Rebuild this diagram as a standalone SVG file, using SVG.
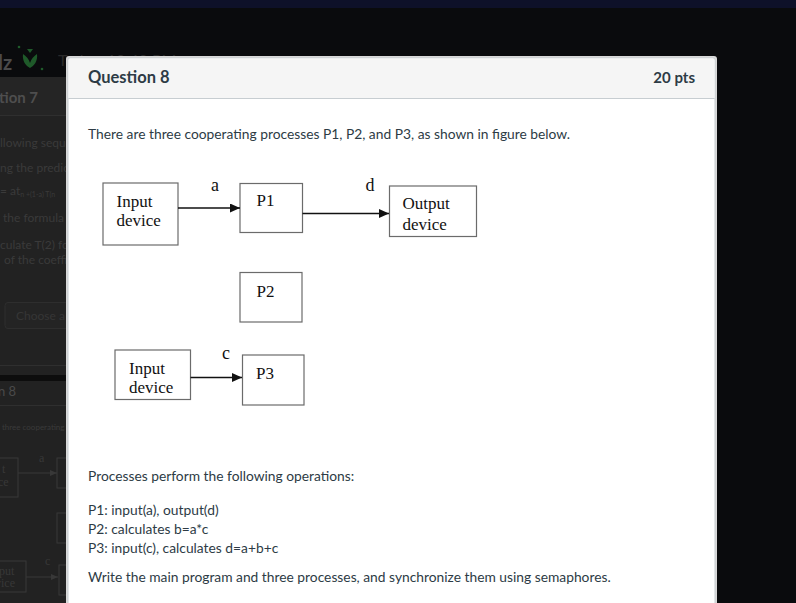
<svg xmlns="http://www.w3.org/2000/svg" width="796" height="603" viewBox="0 0 796 603">
  <style>
    .bgtxt { font-family: "Lato", "Liberation Sans", sans-serif; font-size: 12px; fill: #3a3a3a; }
    .body { font-family: "Lato", "Liberation Sans", sans-serif; font-size: 13.8px; fill: #2d3b45; }
    .hdr { font-family: "Lato", "Liberation Sans", sans-serif; font-weight: bold; fill: #2d3b45; }
    .box { fill: #ffffff; stroke: #6b6b6b; stroke-width: 1.2; }
    .lbl { font-family: "Liberation Serif", "Times New Roman", serif; font-size: 17px; fill: #111111; }
    .conn { stroke: #111111; stroke-width: 1.4; fill: none; }
    .mbox { fill: none; stroke: #383838; stroke-width: 1; }
    .mlbl { font-family: "Liberation Serif", serif; font-size: 12px; fill: #383838; }
    .mconn { stroke: #383838; stroke-width: 1; fill: none; }
  </style>
  <defs>
    <marker id="arrow" markerUnits="userSpaceOnUse" markerWidth="11" markerHeight="10" refX="10" refY="4.5" orient="auto">
      <path d="M0,0 L10,4.5 L0,9 Z" fill="#111111"/>
    </marker>
    <marker id="marrow" markerUnits="userSpaceOnUse" markerWidth="8" markerHeight="8" refX="7" refY="3" orient="auto">
      <path d="M0,0 L7,3 L0,6 Z" fill="#383838"/>
    </marker>
  </defs>

  <!-- page background -->
  <rect x="0" y="0" width="796" height="603" fill="#0a0b0d"/>
  <rect x="0" y="0" width="796" height="8" fill="#0e1129"/>

  <!-- faded background page (left) -->
  <g id="background-page">
    <text x="-2" y="70" font-family="Lato, 'Liberation Sans', sans-serif" font-weight="bold" font-size="20" fill="#4a4a4a">lz</text>
    <path d="M23,54 C22,61 26,66 30,68 C34,66 38,61 37,54 C34,56 31,59 30,63 C29,59 26,56 23,54 Z" fill="#1f5a2a"/>
    <path d="M27,49 L30,53 L33,49 Z" fill="#1f5a2a"/>
    <circle cx="19" cy="47" r="1.3" fill="#1f5a2a"/>
    <circle cx="42" cy="69" r="1.3" fill="#1f5a2a"/>
    <text x="58" y="66" font-family="Lato, 'Liberation Sans', sans-serif" font-size="16" fill="#2a2a2a">Today, 10:48 PM</text>
    <rect x="0" y="77" width="70" height="526" fill="#222222"/>
    <rect x="0" y="77" width="70" height="38" fill="#252525"/>
    <line x1="0" y1="115.5" x2="70" y2="115.5" stroke="#2f2f2f"/>
    <text x="-1" y="103" font-family="Lato, 'Liberation Sans', sans-serif" font-weight="bold" font-size="15" fill="#4e4e4e">tion 7</text>
    <text x="0" y="147" class="bgtxt">llowing seque</text>
    <text x="0" y="172" class="bgtxt">ng the predict</text>
    <text x="0" y="195" class="bgtxt">= at<tspan style="font-size:7px" dy="2">n +(1-a) T(n</tspan></text>
    <text x="3" y="222" class="bgtxt">the formula f</text>
    <text x="0" y="249" class="bgtxt">culate T(2) fo</text>
    <text x="4" y="264" class="bgtxt">of the coeffic</text>
    <rect x="5" y="302.5" width="70" height="26" rx="3" fill="#242424" stroke="#2e2e2e"/>
    <text x="16" y="320" class="bgtxt" style="fill:#363636">Choose a</text>
    <line x1="0" y1="365.5" x2="70" y2="365.5" stroke="#2f2f2f"/>
    <rect x="0" y="375" width="70" height="6" fill="#0d0d0d"/>
    <text x="-2" y="396" class="bgtxt" style="font-size:13px;fill:#4a4a4a">n 8</text>
    <line x1="0" y1="405.5" x2="70" y2="405.5" stroke="#2f2f2f"/>
    <text x="2" y="430" class="bgtxt" style="font-size:8px">three cooperating</text>
    <rect x="-20" y="458" width="38" height="39" class="mbox"/>
    <text x="2" y="473" class="mlbl">t</text>
    <text x="-2" y="486" class="mlbl">ce</text>
    <text x="39" y="462" class="mlbl">a</text>
    <line x1="18" y1="473" x2="57" y2="473" class="mconn" marker-end="url(#marrow)"/>
    <rect x="57" y="458" width="20" height="30" class="mbox"/>
    <rect x="57" y="513" width="20" height="30" class="mbox"/>
    <rect x="-12" y="561" width="38" height="31" class="mbox"/>
    <text x="-1" y="575" class="mlbl">put</text>
    <text x="-5" y="587" class="mlbl">vice</text>
    <text x="45" y="565" class="mlbl">c</text>
    <line x1="26" y1="577" x2="58" y2="577" class="mconn" marker-end="url(#marrow)"/>
    <rect x="59" y="565" width="20" height="30" class="mbox"/>
  </g>

  <!-- modal -->
  <g id="modal">
    <rect x="66" y="56" width="651" height="560" rx="3" fill="#d9d9d9"/>
    <rect x="68" y="58" width="647" height="560" rx="2" fill="#ffffff" stroke="#c7cdd1" stroke-width="1"/>
    <path d="M68.5,98 L68.5,60 Q68.5,58.5 70,58.5 L713,58.5 Q714.5,58.5 714.5,60 L714.5,98 Z" fill="#f5f5f5"/>
    <line x1="68.5" y1="98.5" x2="714.5" y2="98.5" stroke="#c7cdd1"/>
    <text x="88" y="83" class="hdr" font-size="16.5">Question 8</text>
    <text x="695" y="83" class="hdr" font-size="15" text-anchor="end">20 pts</text>
    <text x="88" y="139" class="body">There are three cooperating processes P1, P2, and P3, as shown in figure below.</text>
    <text x="88" y="481" class="body">Processes perform the following operations:</text>
    <text x="88" y="515" class="body">P1: input(a), output(d)</text>
    <text x="88" y="534" class="body">P2: calculates b=a*c</text>
    <text x="88" y="553" class="body">P3: input(c), calculates d=a+b+c</text>
    <text x="88" y="582" class="body">Write the main program and three processes, and synchronize them using semaphores.</text>
  </g>

  <!-- diagram nodes -->
  <g id="input-device-1">
    <rect x="103" y="183" width="75" height="62" class="box"/>
    <text x="116.5" y="207" class="lbl">Input</text>
    <text x="116.5" y="226" class="lbl">device</text>
  </g>
  <g id="p1">
    <rect x="240" y="183.5" width="62.5" height="49" class="box"/>
    <text x="256.5" y="206" class="lbl">P1</text>
  </g>
  <g id="output-device">
    <rect x="389.5" y="186" width="87" height="50.5" class="box"/>
    <text x="402.5" y="209" class="lbl">Output</text>
    <text x="402.5" y="230" class="lbl">device</text>
  </g>
  <g id="p2">
    <rect x="240" y="272.5" width="62" height="49.5" class="box"/>
    <text x="256.5" y="297" class="lbl">P2</text>
  </g>
  <g id="input-device-2">
    <rect x="115" y="350" width="75.5" height="49.5" class="box"/>
    <text x="129" y="374" class="lbl">Input</text>
    <text x="129" y="393" class="lbl">device</text>
  </g>
  <g id="p3">
    <rect x="242.5" y="355" width="61.5" height="50" class="box"/>
    <text x="256" y="378.5" class="lbl">P3</text>
  </g>

  <!-- connectors -->
  <g id="connectors">
    <line x1="178" y1="208" x2="240" y2="208" class="conn" marker-end="url(#arrow)"/>
    <text x="215" y="191" class="lbl" style="font-size:18px" text-anchor="middle">a</text>
    <line x1="302.5" y1="213.5" x2="389" y2="213.5" class="conn" marker-end="url(#arrow)"/>
    <text x="370" y="191" class="lbl" style="font-size:18px" text-anchor="middle">d</text>
    <line x1="190.5" y1="377.5" x2="242" y2="377.5" class="conn" marker-end="url(#arrow)"/>
    <text x="226" y="358.5" class="lbl" style="font-size:18px" text-anchor="middle">c</text>
  </g>
</svg>
